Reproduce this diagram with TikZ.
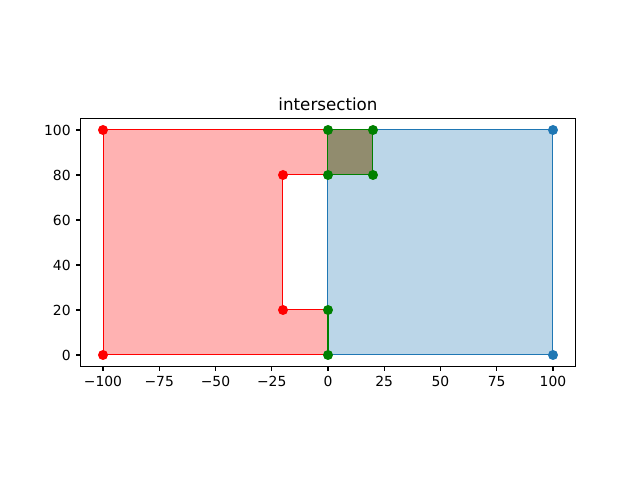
\documentclass[tikz,border=0pt]{standalone}
\usepackage{fontspec}
\setmainfont{DejaVu Sans}
\usetikzlibrary{positioning}
\definecolor{tabblue}{HTML}{1F77B4}
\definecolor{mplgreen}{HTML}{008000}
\definecolor{overlap}{HTML}{918C6E}
\tikzset{
    %Define style for vertex markers
    vertex/.style={
           circle,
           inner sep=0pt,
           minimum size=10pt},
    redpt/.style={vertex, fill=red},
    bluept/.style={vertex, fill=tabblue},
    greenpt/.style={vertex, fill=mplgreen},
    %Define style for polygon patches
    redpatch/.style={
           draw=red, line width=1pt,
           fill=red, fill opacity=0.3},
    bluepatch/.style={
           draw=tabblue, line width=1pt,
           fill=tabblue, fill opacity=0.3},
    greenpatch/.style={
           draw=mplgreen, line width=1pt,
           fill=overlap},
    % Define axis styles
    frame/.style={draw=black, line width=1.1pt},
    tick/.style={line width=1.1pt},
    ticklabel/.style={
           font=\fontsize{13.9}{16}\selectfont,
           inner sep=0pt}
}

\begin{document}
\begin{tikzpicture}[x=2.25pt,y=2.25pt]
\useasboundingbox (-145.78,-55.56) rectangle (138.67,157.78);
% first polygon
\coordinate (r1) at (-100,0);
\coordinate (r2) at (0,0);
\coordinate (r3) at (0,20);
\coordinate (r4) at (-20,20);
\coordinate (r5) at (-20,80);
\coordinate (r6) at (0,80);
\coordinate (r7) at (0,100);
\coordinate (r8) at (-100,100);
% second polygon
\coordinate (b1) at (0,0);
\coordinate (b2) at (100,0);
\coordinate (b3) at (100,100);
\coordinate (b4) at (0,100);
% intersection
\coordinate (g1) at (0,80);
\coordinate (g2) at (20,80);
\coordinate (g3) at (20,100);
\coordinate (g4) at (0,100);
\coordinate (g5) at (0,0);
\coordinate (g6) at (0,20);

\draw[redpatch] (r1) -- (r2) -- (r3) -- (r4) -- (r5) -- (r6) -- (r7) -- (r8) -- cycle;
\draw[bluepatch] (b1) -- (b2) -- (b3) -- (b4) -- cycle;
\draw[greenpatch] (g1) -- (g2) -- (g3) -- (g4) -- cycle;
\draw[mplgreen, line width=2.8pt] (g5) -- (g6);

% axes
\draw[frame] (-110,-5) rectangle (110,105);
\foreach \x/\lab in {-100/−100,-75/−75,-50/−50,-25/−25,0/0,25/25,50/50,75/75,100/100}{
  \draw[tick] (\x,-5) -- ++(0,-4.86pt);
  \node[ticklabel, anchor=north] at ([yshift=-9.7pt]\x,-5) {\lab};
}
\foreach \y in {0,20,40,60,80,100}{
  \draw[tick] (-110,\y) -- ++(-4.86pt,0);
  \node[ticklabel, anchor=east] at ([xshift=-9.7pt]-110,\y) {\y};
}
\node[font=\fontsize{16.7}{19}\selectfont, inner sep=0pt, anchor=south]
  (title) at ([yshift=8.3pt]0,105) {intersection};

% markers
\foreach \p in {r1,r4,r5,r8}{ \node[redpt] at (\p) {}; }
\foreach \p in {b2,b3}{ \node[bluept] at (\p) {}; }
\foreach \p in {g1,g2,g3,g4,g5,g6}{ \node[greenpt] at (\p) {}; }
\end{tikzpicture}
\end{document}
